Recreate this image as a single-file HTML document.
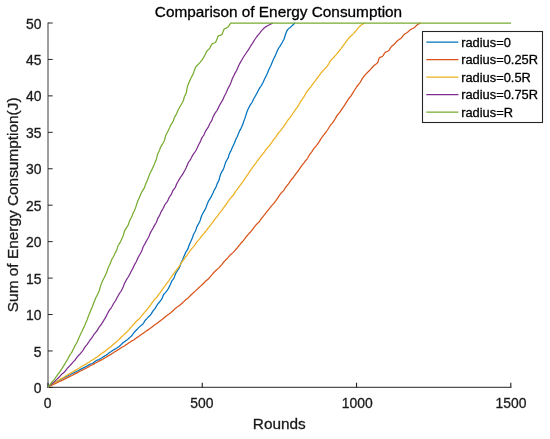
<!DOCTYPE html>
<html><head><meta charset="utf-8"><title>Comparison of Energy Consumption</title>
<style>
html,body{margin:0;padding:0;background:#fff;}
svg{display:block;font-family:"Liberation Sans",Arial,sans-serif;}
</style></head>
<body>
<svg width="550" height="439" viewBox="0 0 550 439">
<rect width="550" height="439" fill="#fff"/>
<g stroke="#262626" stroke-width="1" fill="none">
<line x1="48" y1="22.5" x2="48" y2="387.8" stroke="#3c3c3c"/>
<line x1="47.5" y1="387.3" x2="511.4" y2="387.3" stroke-width="1"/>
<line x1="48" y1="387.40" x2="52.7" y2="387.40"/>
<line x1="48" y1="350.96" x2="52.7" y2="350.96"/>
<line x1="48" y1="314.52" x2="52.7" y2="314.52"/>
<line x1="48" y1="278.08" x2="52.7" y2="278.08"/>
<line x1="48" y1="241.64" x2="52.7" y2="241.64"/>
<line x1="48" y1="205.20" x2="52.7" y2="205.20"/>
<line x1="48" y1="168.76" x2="52.7" y2="168.76"/>
<line x1="48" y1="132.32" x2="52.7" y2="132.32"/>
<line x1="48" y1="95.88" x2="52.7" y2="95.88"/>
<line x1="48" y1="59.44" x2="52.7" y2="59.44"/>
<line x1="48" y1="23.00" x2="52.7" y2="23.00"/>
<line x1="48.00" y1="387.5" x2="48.00" y2="382.7" stroke-width="1.15"/>
<line x1="202.27" y1="387.5" x2="202.27" y2="382.7" stroke-width="1.15"/>
<line x1="356.53" y1="387.5" x2="356.53" y2="382.7" stroke-width="1.15"/>
<line x1="510.80" y1="387.5" x2="510.80" y2="382.7" stroke-width="1.15"/>
</g>
<g font-size="13.9" fill="#1a1a1a" stroke="#1a1a1a" stroke-width="0.3">
<text x="41.5" y="392.9" text-anchor="end">0</text>
<text x="41.5" y="356.5" text-anchor="end">5</text>
<text x="41.5" y="320.0" text-anchor="end">10</text>
<text x="41.5" y="283.6" text-anchor="end">15</text>
<text x="41.5" y="247.1" text-anchor="end">20</text>
<text x="41.5" y="210.7" text-anchor="end">25</text>
<text x="41.5" y="174.3" text-anchor="end">30</text>
<text x="41.5" y="137.8" text-anchor="end">35</text>
<text x="41.5" y="101.4" text-anchor="end">40</text>
<text x="41.5" y="64.9" text-anchor="end">45</text>
<text x="41.5" y="28.5" text-anchor="end">50</text>
<text x="47.5" y="408.4" text-anchor="middle">0</text>
<text x="201.8" y="408.4" text-anchor="middle">500</text>
<text x="357.2" y="408.4" text-anchor="middle">1000</text>
<text x="511.0" y="408.4" text-anchor="middle">1500</text>
</g>
<text x="278.5" y="16.8" text-anchor="middle" font-size="15.35" fill="#000" stroke="#000" stroke-width="0.3">Comparison of Energy Consumption</text>
<text x="279.3" y="429.2" text-anchor="middle" font-size="15.35" fill="#1a1a1a" stroke="#1a1a1a" stroke-width="0.3">Rounds</text>
<text transform="translate(17.7,204.8) rotate(-90)" text-anchor="middle" font-size="15.4" fill="#1a1a1a" stroke="#1a1a1a" stroke-width="0.3">Sum of Energy Consumption(J)</text>
<polyline points="48.0,387.0 49.0,386.4 50.0,385.8 51.0,385.2 52.0,384.5 52.9,383.9 53.9,383.3 54.9,382.7 55.9,382.2 57.0,381.6 58.0,381.1 59.0,380.5 59.9,379.9 60.9,379.4 61.9,378.8 62.9,378.3 63.9,377.7 64.9,377.2 65.9,376.7 66.9,376.2 67.9,375.7 68.9,375.2 70.0,374.7 71.0,374.2 72.0,373.7 73.0,373.2 74.0,372.7 75.0,372.2 76.0,371.7 77.0,371.2 78.0,370.7 79.0,370.2 80.0,369.6 81.0,369.1 82.0,368.6 83.0,368.1 84.0,367.6 85.0,367.1 86.0,366.6 87.0,366.0 88.0,365.4 88.9,364.8 90.0,364.4 91.0,363.9 92.1,363.5 93.1,363.0 94.0,362.3 94.9,361.6 95.9,360.9 96.9,360.4 98.0,359.9 99.0,359.5 100.1,358.9 101.0,358.3 102.0,357.7 103.0,357.0 104.0,356.4 105.0,355.8 106.0,355.2 107.0,354.5 108.0,353.8 108.9,353.1 109.9,352.3 110.9,351.7 111.9,351.0 112.9,350.3 113.9,349.7 115.0,349.1 116.1,348.5 117.2,347.8 118.2,347.1 119.2,346.4 120.2,345.6 121.1,344.6 122.0,343.7 122.9,342.8 124.0,342.1 125.1,341.3 126.1,340.5 127.2,339.7 128.2,338.9 129.2,338.0 130.2,337.1 131.2,336.2 132.2,335.2 133.0,334.0 133.8,332.8 134.7,331.7 135.7,330.7 136.7,329.7 137.7,328.7 138.7,327.6 139.8,326.6 140.9,325.6 142.1,324.7 143.2,323.6 144.0,322.3 144.8,320.9 145.8,319.7 146.9,318.6 148.0,317.4 149.1,316.3 150.3,315.2 151.3,313.9 152.1,312.4 153.0,311.0 154.1,309.7 155.2,308.4 156.0,306.9 156.9,305.3 157.9,303.9 159.1,302.5 160.2,301.1 161.3,299.6 162.2,298.1 162.9,296.3 163.6,294.5 164.9,293.1 166.2,291.6 167.4,290.0 168.5,288.4 169.3,286.6 170.2,284.8 171.0,282.9 171.8,280.9 173.1,279.3 174.2,277.5 174.9,275.4 175.7,273.4 176.9,271.5 178.1,269.7 179.3,267.8 180.2,265.7 180.8,263.5 181.8,261.4 182.8,259.3 183.7,257.1 184.6,254.9 185.5,252.7 186.9,250.6 188.1,248.4 188.8,246.0 189.7,243.7 190.8,241.4 191.9,239.1 192.8,236.7 193.6,234.2 194.9,232.0 196.0,229.7 196.7,227.2 197.9,224.9 199.1,222.7 200.2,220.4 200.9,218.0 201.6,215.7 202.8,213.5 204.0,211.4 205.1,209.4 206.1,207.2 206.9,205.0 207.7,202.9 208.6,200.8 209.9,198.8 211.1,196.9 212.1,194.8 213.1,192.7 214.0,190.5 215.3,188.4 216.3,186.2 217.1,183.9 218.3,181.6 219.3,179.3 219.8,176.7 220.6,174.3 221.7,171.9 223.2,169.6 224.1,167.2 224.9,164.6 225.7,162.1 227.0,159.7 228.4,157.4 229.0,154.8 230.0,152.4 231.3,150.1 232.2,147.8 233.3,145.5 234.4,143.2 235.2,141.0 236.1,138.7 237.2,136.7 238.1,134.6 238.9,132.5 239.8,130.6 240.6,129.1 241.8,126.7 242.9,124.1 243.8,121.3 244.9,118.4 245.9,115.1 246.9,112.1 247.8,109.8 248.8,107.8 249.7,105.9 250.8,104.2 252.0,102.5 252.9,100.6 253.8,98.8 254.8,97.0 255.8,95.2 256.8,93.4 257.8,91.5 258.7,89.7 259.7,87.9 260.9,86.3 261.9,84.6 262.9,82.7 263.8,80.8 264.7,78.8 265.7,76.8 266.8,74.6 267.8,72.3 268.7,70.0 269.8,67.7 270.9,65.4 271.9,63.1 272.8,60.7 273.8,58.5 274.9,56.4 275.9,54.2 276.8,52.0 277.7,49.9 278.7,48.0 279.9,46.3 280.9,44.7 281.9,43.0 282.9,41.2 284.0,39.3 284.8,36.8 285.7,33.8 286.7,31.2 287.7,29.6 288.8,28.6 289.9,27.8 290.9,26.9 291.9,25.9 292.9,25.0 293.8,24.0 294.7,23.0 294.9,23.0" fill="none" stroke="#0072BD" stroke-width="1.25" stroke-linejoin="round"/>
<polyline points="48.0,387.0 49.0,386.5 50.0,386.0 51.0,385.5 52.0,385.1 53.0,384.6 54.0,384.2 55.0,383.7 56.0,383.2 57.0,382.8 58.0,382.3 59.0,381.8 60.0,381.3 61.0,380.8 62.0,380.4 63.0,379.9 64.0,379.4 65.0,378.9 66.0,378.4 67.0,377.9 68.0,377.4 69.0,376.9 70.0,376.4 71.0,375.9 72.0,375.5 73.0,375.0 74.0,374.4 75.0,373.9 76.0,373.4 77.0,372.9 78.0,372.4 79.0,371.8 80.0,371.3 81.0,370.8 82.0,370.3 83.0,369.8 84.0,369.3 85.0,368.8 86.0,368.2 87.0,367.7 88.0,367.1 89.0,366.6 89.9,366.0 91.0,365.5 92.0,365.0 93.0,364.5 94.0,363.9 95.0,363.3 96.0,362.7 96.9,362.2 98.0,361.7 99.0,361.1 100.0,360.6 101.1,360.1 102.1,359.5 103.1,359.0 104.1,358.4 105.0,357.8 106.0,357.2 107.0,356.6 108.0,356.0 109.0,355.4 110.1,354.9 111.1,354.3 112.0,353.6 113.0,353.0 113.9,352.3 114.9,351.7 116.0,351.1 117.0,350.5 118.0,349.9 119.0,349.3 119.9,348.6 120.9,347.9 121.9,347.3 122.9,346.7 124.0,346.2 125.0,345.5 125.9,344.8 126.9,344.2 127.9,343.5 128.9,342.8 129.9,342.2 130.9,341.5 131.9,340.9 133.0,340.3 134.0,339.7 135.0,339.0 136.0,338.3 136.9,337.6 137.9,336.9 138.9,336.2 139.9,335.4 140.9,334.7 141.9,334.1 142.9,333.4 143.9,332.7 144.9,332.0 145.9,331.3 146.9,330.6 148.0,329.9 149.0,329.2 150.0,328.5 151.0,327.8 152.0,327.0 152.9,326.2 153.9,325.4 154.9,324.7 156.0,324.0 157.0,323.4 158.0,322.6 159.0,321.8 160.0,321.0 161.0,320.2 162.0,319.5 163.0,318.7 164.0,317.9 165.0,317.1 166.0,316.3 167.0,315.5 168.0,314.8 169.1,314.0 170.1,313.2 171.1,312.4 172.1,311.5 173.0,310.7 174.0,309.8 174.9,308.9 175.9,308.0 176.9,307.2 178.0,306.5 179.1,305.7 180.1,304.9 181.1,304.1 182.2,303.2 183.1,302.3 184.1,301.4 185.0,300.4 186.0,299.6 187.1,298.7 188.2,297.9 189.1,296.9 190.0,296.0 190.9,295.0 192.0,294.1 193.0,293.2 194.0,292.3 195.0,291.4 196.0,290.4 197.0,289.4 198.0,288.5 199.0,287.5 200.0,286.6 201.0,285.7 202.1,284.8 203.1,283.8 204.1,282.8 205.0,281.8 206.0,280.8 207.1,279.9 208.2,279.0 209.2,277.9 210.1,276.9 211.0,275.8 212.0,274.7 212.9,273.6 213.8,272.5 214.9,271.5 215.9,270.5 217.0,269.6 218.0,268.6 219.1,267.6 220.1,266.5 221.0,265.4 222.0,264.3 222.9,263.1 223.8,262.0 224.8,260.9 225.8,259.8 226.9,258.8 227.9,257.7 228.8,256.6 229.8,255.4 230.9,254.4 232.1,253.4 233.2,252.4 234.2,251.3 235.2,250.2 236.2,249.0 237.2,247.9 238.1,246.7 239.1,245.5 240.1,244.4 241.0,243.2 242.1,242.0 243.1,240.9 244.1,239.7 245.0,238.4 245.9,237.2 246.9,236.0 247.9,234.8 248.9,233.7 250.0,232.5 251.0,231.4 252.0,230.2 253.0,228.9 253.9,227.7 254.9,226.4 255.8,225.2 256.9,224.0 258.1,222.9 259.2,221.8 260.1,220.5 261.0,219.2 262.0,217.9 263.0,216.7 264.0,215.4 265.0,214.2 265.9,212.9 266.9,211.6 267.9,210.3 268.9,209.1 269.9,207.8 270.9,206.6 272.0,205.3 273.1,204.1 274.2,202.9 275.1,201.6 276.1,200.3 277.1,198.9 278.0,197.6 278.9,196.2 279.8,194.9 280.8,193.5 281.9,192.3 283.1,191.1 284.1,189.8 285.0,188.4 285.9,187.0 287.0,185.7 288.0,184.5 289.0,183.1 289.9,181.7 290.8,180.3 291.9,179.0 293.1,177.8 294.0,176.4 295.0,175.0 296.0,173.7 297.0,172.3 298.0,171.0 299.0,169.6 300.0,168.2 300.9,166.8 301.9,165.5 302.9,164.1 304.0,162.8 305.0,161.4 306.1,160.1 307.2,158.8 308.1,157.3 308.9,155.8 309.8,154.3 310.9,153.0 311.9,151.6 312.8,150.1 313.8,148.7 314.9,147.4 316.0,146.1 317.1,144.7 318.1,143.3 319.1,141.9 320.0,140.4 320.9,138.9 321.9,137.5 322.9,136.1 324.0,134.7 325.0,133.3 326.1,131.9 327.1,130.5 328.1,129.0 329.0,127.5 329.9,126.0 330.9,124.6 332.1,123.3 333.2,121.9 334.2,120.4 335.1,119.0 336.0,117.4 336.8,115.9 337.9,114.5 339.1,113.2 340.2,111.7 341.1,110.3 342.1,108.8 343.1,107.3 344.1,105.9 345.1,104.4 346.0,102.9 347.0,101.3 347.9,99.8 348.9,98.4 350.1,97.0 351.2,95.6 352.1,94.1 353.0,92.6 354.0,91.0 354.9,89.5 355.9,88.0 356.9,86.5 358.0,85.1 359.1,83.7 360.2,82.3 361.1,80.7 362.0,79.1 363.0,77.7 364.0,76.2 364.1,76.1 365.1,74.9 366.1,73.9 367.2,72.8 368.2,71.7 369.2,70.7 370.2,69.7 371.2,68.6 372.1,67.5 373.1,66.5 374.1,65.5 375.1,64.7 376.1,64.0 377.1,63.1 378.1,61.7 379.1,58.1 380.1,57.3 381.1,56.9 382.1,56.6 383.1,55.6 384.1,53.9 385.1,52.5 386.1,51.9 387.1,51.5 388.1,51.0 389.1,50.1 390.0,48.6 391.0,47.1 392.0,46.1 393.0,45.3 394.0,44.5 395.0,43.5 396.1,42.2 397.1,41.0 398.1,40.2 399.0,39.6 400.0,38.9 401.1,38.2 402.1,37.0 403.1,35.7 404.1,34.6 405.1,33.8 406.1,33.2 407.1,32.5 408.1,31.7 409.0,30.9 410.0,30.0 411.1,29.3 412.1,28.8 413.1,28.3 414.1,27.8 415.1,26.9 416.1,25.8 417.1,24.9 418.1,24.2 419.1,23.6 420.1,23.1 420.4,23.0" fill="none" stroke="#D95319" stroke-width="1.25" stroke-linejoin="round"/>
<polyline points="48.0,387.0 49.0,386.4 50.0,385.7 51.0,385.0 52.0,384.4 53.0,383.7 54.0,383.1 55.0,382.5 56.0,381.9 57.0,381.2 58.0,380.7 59.0,380.1 60.0,379.5 61.0,378.9 62.0,378.3 63.0,377.7 64.0,377.1 65.0,376.5 66.0,375.8 67.0,375.2 68.0,374.6 69.0,374.0 70.0,373.4 71.0,372.9 71.9,372.3 72.9,371.7 73.9,371.1 74.9,370.5 76.0,369.9 77.0,369.4 78.0,368.8 79.0,368.2 79.9,367.6 80.9,366.9 81.9,366.3 83.0,365.8 84.0,365.2 85.0,364.6 86.0,364.0 87.0,363.4 88.0,362.8 89.0,362.2 90.0,361.5 91.0,360.8 92.0,360.2 93.0,359.6 94.0,359.0 95.0,358.3 96.0,357.6 97.0,357.0 98.0,356.3 99.0,355.5 99.9,354.8 100.9,354.0 101.9,353.3 102.9,352.6 104.0,351.9 105.0,351.2 106.0,350.4 107.0,349.6 107.9,348.8 108.9,348.0 110.0,347.2 111.0,346.4 112.0,345.6 112.9,344.7 113.9,343.9 115.0,343.1 116.0,342.2 117.1,341.4 118.0,340.4 119.0,339.5 120.0,338.5 120.9,337.5 121.9,336.5 122.9,335.6 123.9,334.6 125.0,333.7 126.0,332.7 127.1,331.7 128.1,330.7 129.1,329.6 130.0,328.5 130.9,327.4 131.9,326.3 132.9,325.2 133.9,324.1 134.9,323.0 135.9,321.9 137.0,320.8 138.1,319.8 139.2,318.7 140.2,317.6 141.2,316.4 142.2,315.2 143.2,314.0 144.1,312.8 145.1,311.6 146.2,310.5 147.2,309.3 148.2,308.1 149.2,306.9 150.1,305.6 151.0,304.3 151.9,303.0 152.9,301.7 153.8,300.4 154.9,299.1 156.0,298.0 157.1,296.8 158.1,295.5 159.0,294.1 160.0,292.8 161.0,291.4 161.9,290.1 162.9,288.7 163.8,287.3 164.9,286.0 165.9,284.6 167.0,283.2 168.0,281.9 169.0,280.5 169.9,279.0 170.9,277.6 171.9,276.1 172.9,274.7 173.9,273.3 175.0,271.9 176.0,270.6 177.1,269.2 178.2,267.9 179.1,266.4 180.1,265.0 181.0,263.5 181.9,262.1 182.9,260.7 183.9,259.3 184.9,258.0 185.9,256.6 187.0,255.3 187.9,254.0 188.9,252.6 189.8,251.2 190.8,249.9 191.8,248.6 192.9,247.3 194.0,246.1 195.0,244.8 195.9,243.4 196.8,242.0 197.9,240.8 198.9,239.6 200.0,238.3 201.0,237.0 201.9,235.7 203.0,234.5 204.1,233.3 205.1,232.0 206.1,230.8 207.1,229.5 208.1,228.2 209.1,226.9 210.1,225.7 211.1,224.4 212.1,223.1 213.0,221.8 214.0,220.4 215.0,219.1 216.0,217.9 217.1,216.6 218.0,215.3 218.9,213.9 220.0,212.6 221.0,211.4 222.0,210.1 223.0,208.7 223.9,207.3 224.9,206.0 226.0,204.7 226.9,203.3 227.8,201.9 228.8,200.5 229.8,199.1 230.8,197.8 232.0,196.5 233.2,195.3 234.2,193.9 235.0,192.3 235.9,190.9 237.0,189.6 238.1,188.2 239.1,186.8 240.1,185.4 241.1,184.0 242.1,182.7 243.1,181.3 244.1,179.8 245.0,178.4 246.0,177.0 247.0,175.6 248.0,174.2 248.9,172.7 249.8,171.3 250.8,169.9 251.8,168.5 252.8,167.2 253.8,165.8 254.8,164.5 255.8,163.1 256.8,161.7 257.8,160.4 258.8,159.0 259.8,157.7 260.8,156.4 261.8,155.0 262.9,153.8 264.0,152.5 264.9,151.1 265.9,149.7 266.9,148.4 268.1,147.2 269.2,146.0 270.2,144.6 271.1,143.3 272.1,141.9 273.0,140.5 274.0,139.2 275.1,137.9 276.1,136.6 277.0,135.1 277.9,133.7 279.0,132.4 280.1,131.2 281.2,129.9 282.2,128.5 283.2,127.1 284.2,125.7 285.1,124.3 286.1,122.9 287.0,121.5 288.0,120.0 289.1,118.7 290.2,117.4 291.2,115.9 292.2,114.5 293.1,113.0 294.1,111.6 295.1,110.1 296.2,108.7 297.2,107.3 298.2,105.7 299.1,104.2 300.0,102.6 300.9,101.1 302.0,99.6 303.0,98.1 304.0,96.6 304.9,95.0 305.8,93.4 306.8,91.9 307.8,90.4 309.0,89.0 310.1,87.7 311.1,86.3 312.2,84.8 313.2,83.5 314.2,82.1 315.3,80.8 316.2,79.5 317.2,78.2 318.2,76.9 319.1,75.6 320.0,74.4 320.9,73.2 321.8,72.0 322.8,70.8 323.9,69.8 325.0,68.6 326.1,67.5 327.2,66.2 328.2,64.7 329.2,63.0 330.1,61.2 331.1,60.2 332.0,59.2 333.0,58.1 334.0,57.0 335.0,55.9 336.0,54.8 337.0,53.6 337.9,52.5 338.9,51.3 339.9,50.0 340.9,48.8 341.9,47.4 342.9,46.0 344.0,44.6 345.1,43.2 346.1,41.7 347.0,40.4 348.0,39.1 349.0,38.0 349.9,36.9 350.9,36.0 352.0,35.0 353.0,34.1 354.0,33.1 354.9,32.0 355.9,30.9 356.9,29.6 357.9,28.3 359.0,27.1 360.0,26.1 361.0,25.3 362.0,24.6 363.0,23.9 364.0,23.4 364.8,23.0" fill="none" stroke="#EDB120" stroke-width="1.25" stroke-linejoin="round"/>
<polyline points="48.0,387.0 49.0,386.2 50.0,385.3 51.0,384.5 52.1,383.7 53.1,382.8 54.1,381.9 55.1,381.0 56.0,380.1 57.0,379.1 58.0,378.2 59.0,377.2 60.0,376.2 61.0,375.1 61.9,374.1 63.0,373.2 64.1,372.2 65.1,371.2 66.0,370.0 66.9,368.8 67.9,367.7 68.9,366.7 69.9,365.6 70.9,364.5 72.0,363.3 73.0,362.2 74.0,361.1 75.1,360.0 76.0,358.7 76.9,357.4 77.9,356.2 79.0,355.0 80.1,353.9 81.2,352.6 82.2,351.4 83.2,350.0 84.0,348.6 84.9,347.2 85.9,345.9 87.0,344.6 88.0,343.2 88.9,341.8 89.8,340.3 90.9,339.0 91.9,337.6 92.9,336.2 93.8,334.7 94.9,333.3 96.1,331.9 97.2,330.5 98.1,328.9 99.0,327.4 100.1,325.9 101.3,324.5 102.2,322.9 103.2,321.3 104.2,319.7 105.2,318.1 106.1,316.4 106.9,314.7 107.8,313.0 108.7,311.3 109.8,309.7 111.0,308.1 112.0,306.5 112.9,304.7 113.9,303.0 115.1,301.3 116.1,299.6 117.0,297.8 118.0,296.0 119.0,294.2 120.1,292.5 121.3,290.8 122.2,288.9 123.1,287.0 123.9,285.0 124.7,283.1 125.7,281.2 126.7,279.3 127.9,277.5 129.0,275.6 130.0,273.7 131.0,271.8 132.1,269.8 133.1,267.9 134.0,265.8 135.0,263.9 136.1,262.0 137.0,259.9 137.9,257.9 139.0,256.0 140.1,254.0 141.2,252.0 142.1,250.0 142.8,247.8 143.8,245.8 144.9,243.9 145.9,241.9 147.0,240.0 148.1,238.0 149.1,236.0 149.9,233.9 150.9,231.9 152.0,230.0 153.1,228.1 154.1,226.1 155.3,224.2 156.4,222.3 157.1,220.3 157.9,218.2 159.0,216.4 160.0,214.5 160.8,212.5 161.8,210.6 162.9,208.8 163.9,206.9 164.7,205.0 166.0,203.2 167.3,201.6 168.2,199.7 169.0,197.8 170.1,196.0 171.3,194.4 172.1,192.5 172.9,190.6 174.2,188.9 175.4,187.3 176.1,185.3 176.9,183.4 177.9,181.7 178.9,179.9 180.0,178.2 181.1,176.5 182.2,174.8 183.3,173.1 184.3,171.3 185.3,169.5 186.2,167.7 187.0,165.8 187.8,163.8 188.7,162.0 189.9,160.3 191.0,158.6 191.9,156.7 192.9,154.9 194.1,153.2 195.3,151.5 196.3,149.7 197.3,147.8 198.1,145.9 199.0,144.0 200.1,142.2 200.9,140.3 201.6,138.3 202.8,136.5 204.0,134.8 204.8,132.8 205.7,130.9 206.9,129.1 208.1,127.4 209.0,125.4 209.9,123.5 211.1,121.7 212.1,119.8 212.7,117.7 213.6,115.8 214.6,113.9 215.8,112.1 217.1,110.3 218.1,108.4 219.0,106.4 220.0,104.5 221.1,102.6 222.2,100.8 223.3,98.9 224.1,96.8 224.5,95.8 225.7,93.7 226.7,91.5 227.6,89.2 228.7,87.1 229.9,85.1 230.8,82.9 231.6,80.7 232.4,78.5 233.4,76.5 234.4,74.4 235.5,72.4 236.6,70.5 237.5,68.4 238.4,66.3 239.4,64.3 240.4,62.4 241.5,60.5 242.5,58.7 243.5,57.0 244.5,55.5 245.5,54.0 246.5,52.5 247.5,51.1 248.5,49.6 249.4,48.1 250.4,46.5 251.4,44.9 252.5,43.3 253.5,41.6 254.5,40.0 255.5,38.5 256.6,37.0 257.6,35.7 258.7,34.4 259.7,33.1 260.6,31.8 261.6,30.7 262.5,29.6 263.5,28.7 264.4,27.8 265.4,27.0 266.4,26.4 267.5,25.8 268.5,25.2 269.5,24.7 270.5,24.1 271.5,23.6 272.5,23.1 272.6,23.0" fill="none" stroke="#7E2F8E" stroke-width="1.25" stroke-linejoin="round"/>
<polyline points="48.0,387.0 49.1,385.9 50.1,384.7 51.0,383.4 51.9,382.1 53.0,380.9 54.1,379.7 55.1,378.4 56.0,377.0 57.0,375.6 58.0,374.2 59.0,372.8 60.1,371.4 61.1,369.9 62.1,368.4 63.0,366.9 64.0,365.3 65.0,363.7 65.9,362.0 66.9,360.4 67.9,358.7 68.8,356.9 69.9,355.2 71.0,353.5 72.1,351.7 73.0,349.8 73.9,347.9 74.9,345.9 76.0,344.0 77.1,342.1 78.0,340.0 78.9,337.8 79.9,335.7 80.9,333.6 81.9,331.4 83.0,329.1 84.1,326.9 85.1,324.6 86.0,322.3 87.1,319.9 87.9,317.5 88.9,315.0 89.9,312.6 90.9,310.1 91.9,307.7 92.9,305.2 93.8,302.7 94.8,300.2 95.8,297.8 97.1,295.4 98.3,293.0 99.3,290.5 100.0,287.9 100.8,285.4 101.7,282.9 102.7,280.5 103.9,278.2 105.1,275.9 106.2,273.6 107.1,271.2 107.8,268.8 108.8,266.5 110.0,264.3 110.8,261.9 111.7,259.6 113.0,257.5 114.1,255.3 115.1,253.1 116.3,250.9 117.2,248.7 117.8,246.3 119.0,244.2 120.3,242.1 121.3,239.9 122.3,237.7 123.3,235.5 123.9,233.2 124.6,230.8 125.9,228.7 127.1,226.7 128.4,224.6 129.1,222.2 130.0,219.9 131.2,217.8 132.2,215.5 133.1,213.2 134.2,211.0 135.2,208.7 136.0,206.4 136.8,203.9 137.6,201.5 138.6,199.2 139.6,196.9 140.6,194.5 141.7,192.2 143.0,189.9 144.5,187.7 145.2,185.2 146.2,182.8 147.3,180.5 148.2,178.0 149.1,175.6 150.1,173.2 151.2,170.9 152.4,168.6 153.4,166.2 154.5,163.9 155.4,161.5 156.4,159.2 157.0,156.7 157.6,154.2 158.7,152.0 159.7,149.7 160.5,147.3 161.8,145.1 163.1,143.0 164.3,140.8 165.0,138.5 165.5,136.0 166.6,133.8 167.7,131.7 168.8,129.5 169.8,127.3 170.7,125.1 172.1,123.1 173.2,121.0 174.0,118.7 174.9,116.6 176.1,114.6 177.1,112.4 178.0,110.3 179.1,108.3 180.2,106.3 181.4,104.3 182.5,102.3 183.5,100.3 184.0,98.0 184.7,95.9 184.9,95.8 186.4,92.4 186.9,88.9 187.7,85.7 188.8,82.9 190.0,80.2 191.1,77.7 192.4,75.4 193.5,73.3 194.1,71.1 194.9,69.1 195.7,67.2 196.7,65.7 198.1,64.5 199.2,63.3 200.1,62.3 201.0,61.2 202.0,59.8 203.0,58.3 204.1,56.7 205.2,54.5 206.2,52.2 207.1,50.8 208.1,49.9 209.1,49.0 210.1,47.6 211.1,45.3 212.2,43.9 213.1,43.4 214.1,43.0 215.1,42.5 215.9,41.8 217.1,38.8 218.1,36.1 219.1,35.6 220.1,35.3 221.1,34.9 222.3,33.9 223.3,31.0 224.2,29.1 225.1,28.5 226.1,28.1 227.1,27.6 228.0,27.0 228.9,25.9 230.0,24.2 230.7,23.0 511.0,23.0" fill="none" stroke="#77AC30" stroke-width="1.25" stroke-linejoin="round"/>
<rect x="422.5" y="31.5" width="120" height="91" fill="#fff" stroke="#262626" stroke-width="1.1"/>
<line x1="426.3" y1="42.0" x2="458.4" y2="42.0" stroke="#0072BD" stroke-width="1.25"/>
<text x="461.2" y="46.6" font-size="12.85" fill="#000" stroke="#000" stroke-width="0.3">radius=0</text>
<line x1="426.3" y1="59.5" x2="458.4" y2="59.5" stroke="#D95319" stroke-width="1.25"/>
<text x="461.2" y="64.1" font-size="12.85" fill="#000" stroke="#000" stroke-width="0.3">radius=0.25R</text>
<line x1="426.3" y1="77.0" x2="458.4" y2="77.0" stroke="#EDB120" stroke-width="1.25"/>
<text x="461.2" y="81.6" font-size="12.85" fill="#000" stroke="#000" stroke-width="0.3">radius=0.5R</text>
<line x1="426.3" y1="94.5" x2="458.4" y2="94.5" stroke="#7E2F8E" stroke-width="1.25"/>
<text x="461.2" y="99.1" font-size="12.85" fill="#000" stroke="#000" stroke-width="0.3">radius=0.75R</text>
<line x1="426.3" y1="112.0" x2="458.4" y2="112.0" stroke="#77AC30" stroke-width="1.25"/>
<text x="461.2" y="116.6" font-size="12.85" fill="#000" stroke="#000" stroke-width="0.3">radius=R</text>
</svg>
</body></html>
